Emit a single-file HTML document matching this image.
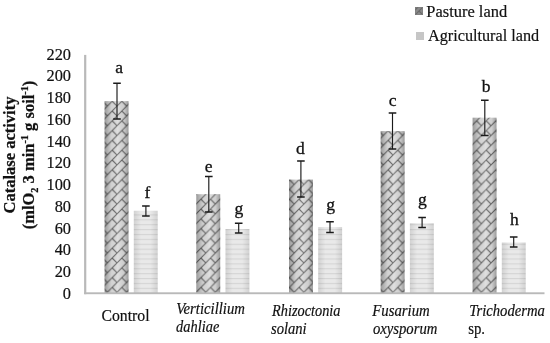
<!DOCTYPE html>
<html><head><meta charset="utf-8"><title>Catalase activity</title>
<style>
html,body{margin:0;padding:0;background:#fff;}
body{width:550px;height:343px;position:relative;overflow:hidden;font-family:"Liberation Serif","Times New Roman",serif;color:#111;}
.t{position:absolute;white-space:nowrap;font-size:17px;line-height:20px;-webkit-text-stroke:0.2px #111;}
.yt{text-align:right;width:40px;left:31.4px;font-size:16.8px;transform:scaleX(0.975);transform-origin:100% 50%;}
.dl{text-align:center;width:30px;}
.xl{font-size:17px;line-height:22px;}
.i{font-style:italic;}
.ylab{position:absolute;font-weight:bold;font-size:16.5px;line-height:18.7px;text-align:center;white-space:nowrap;-webkit-text-stroke:0.25px #111;transform-origin:0 0;transform:rotate(-90deg);width:220px;}
sup,sub{font-size:62%;line-height:0;}
.lg{position:absolute;width:8px;height:8px;}
</style></head><body>
<svg width="550" height="343" viewBox="0 0 550 343" style="position:absolute;left:0;top:0">
<defs>
<pattern id="brick0" width="9.63" height="9.8" patternUnits="userSpaceOnUse" patternTransform="translate(107.39 106.10)">
<rect width="9.63" height="9.8" fill="#dcdcdc"/>
<path d="M-1 10.82 L10.63 -1.02 M-1 1.02 L1 -1.02 M8.63 10.82 L10.63 8.78 M4.815 4.9 L9.63 9.8" stroke="#666" stroke-width="1.05" fill="none"/>
</pattern><pattern id="brick1" width="9.63" height="9.8" patternUnits="userSpaceOnUse" patternTransform="translate(196.09 106.10)">
<rect width="9.63" height="9.8" fill="#dcdcdc"/>
<path d="M-1 10.82 L10.63 -1.02 M-1 1.02 L1 -1.02 M8.63 10.82 L10.63 8.78 M4.815 4.9 L9.63 9.8" stroke="#666" stroke-width="1.05" fill="none"/>
</pattern><pattern id="brick2" width="9.63" height="9.8" patternUnits="userSpaceOnUse" patternTransform="translate(284.58 106.10)">
<rect width="9.63" height="9.8" fill="#dcdcdc"/>
<path d="M-1 10.82 L10.63 -1.02 M-1 1.02 L1 -1.02 M8.63 10.82 L10.63 8.78 M4.815 4.9 L9.63 9.8" stroke="#666" stroke-width="1.05" fill="none"/>
</pattern><pattern id="brick3" width="9.63" height="9.8" patternUnits="userSpaceOnUse" patternTransform="translate(373.69 106.10)">
<rect width="9.63" height="9.8" fill="#dcdcdc"/>
<path d="M-1 10.82 L10.63 -1.02 M-1 1.02 L1 -1.02 M8.63 10.82 L10.63 8.78 M4.815 4.9 L9.63 9.8" stroke="#666" stroke-width="1.05" fill="none"/>
</pattern><pattern id="brick4" width="9.63" height="9.8" patternUnits="userSpaceOnUse" patternTransform="translate(471.79 106.10)">
<rect width="9.63" height="9.8" fill="#dcdcdc"/>
<path d="M-1 10.82 L10.63 -1.02 M-1 1.02 L1 -1.02 M8.63 10.82 L10.63 8.78 M4.815 4.9 L9.63 9.8" stroke="#666" stroke-width="1.05" fill="none"/>
</pattern>
<pattern id="hl" width="10" height="4.895" patternUnits="userSpaceOnUse" patternTransform="translate(0 3.9)">
<rect width="10" height="4.895" fill="#e9e9e9"/>
<rect y="0" width="10" height="1.1" fill="#d5d5d5"/>
</pattern>
<linearGradient id="cyl" x1="0" x2="1" y1="0" y2="0">
<stop offset="0" stop-color="#000" stop-opacity="0.30"/>
<stop offset="0.3" stop-color="#000" stop-opacity="0.04"/>
<stop offset="0.55" stop-color="#fff" stop-opacity="0.10"/>
<stop offset="0.8" stop-color="#000" stop-opacity="0.06"/>
<stop offset="1" stop-color="#000" stop-opacity="0.30"/>
</linearGradient>
<linearGradient id="cyl2" x1="0" x2="1" y1="0" y2="0">
<stop offset="0" stop-color="#000" stop-opacity="0.10"/>
<stop offset="0.3" stop-color="#000" stop-opacity="0.0"/>
<stop offset="0.7" stop-color="#000" stop-opacity="0.0"/>
<stop offset="1" stop-color="#000" stop-opacity="0.10"/>
</linearGradient>
</defs>
<rect width="550" height="343" fill="#fff"/>
<rect x="104.6" y="101.1" width="23.9" height="192.2" fill="url(#brick0)"/>
<rect x="104.6" y="101.1" width="23.9" height="192.2" fill="url(#cyl)"/>
<rect x="133.8" y="210.8" width="23.9" height="82.4" fill="url(#hl)"/>
<rect x="133.8" y="210.8" width="23.9" height="82.4" fill="url(#cyl2)"/>
<rect x="196.3" y="194.2" width="23.9" height="99.1" fill="url(#brick1)"/>
<rect x="196.3" y="194.2" width="23.9" height="99.1" fill="url(#cyl)"/>
<rect x="225.5" y="229.0" width="23.9" height="64.2" fill="url(#hl)"/>
<rect x="225.5" y="229.0" width="23.9" height="64.2" fill="url(#cyl2)"/>
<rect x="289.0" y="179.6" width="23.9" height="113.7" fill="url(#brick2)"/>
<rect x="289.0" y="179.6" width="23.9" height="113.7" fill="url(#cyl)"/>
<rect x="318.2" y="227.1" width="23.9" height="66.2" fill="url(#hl)"/>
<rect x="318.2" y="227.1" width="23.9" height="66.2" fill="url(#cyl2)"/>
<rect x="380.7" y="131.1" width="23.9" height="162.2" fill="url(#brick3)"/>
<rect x="380.7" y="131.1" width="23.9" height="162.2" fill="url(#cyl)"/>
<rect x="409.9" y="223.2" width="23.9" height="70.1" fill="url(#hl)"/>
<rect x="409.9" y="223.2" width="23.9" height="70.1" fill="url(#cyl2)"/>
<rect x="472.6" y="117.7" width="23.9" height="175.6" fill="url(#brick4)"/>
<rect x="472.6" y="117.7" width="23.9" height="175.6" fill="url(#cyl)"/>
<rect x="501.8" y="242.5" width="23.9" height="50.8" fill="url(#hl)"/>
<rect x="501.8" y="242.5" width="23.9" height="50.8" fill="url(#cyl2)"/>
<rect x="84.1" y="54.9" width="2.2" height="239.3" fill="#b9b9b9"/>
<rect x="84.1" y="292.3" width="460.4" height="1.9" fill="#b9b9b9"/>
<path d="M117.0 83.2 V118.9" stroke="#1a1a1a" stroke-width="1.15" fill="none"/>
<path d="M113.2 83.2 H120.8 M113.2 118.9 H120.8" stroke="#1a1a1a" stroke-width="1.5" fill="none"/>
<path d="M145.9 206.0 V216.1" stroke="#1a1a1a" stroke-width="1.15" fill="none"/>
<path d="M142.1 206.0 H149.7 M142.1 216.1 H149.7" stroke="#1a1a1a" stroke-width="1.5" fill="none"/>
<path d="M208.8 176.6 V212.1" stroke="#1a1a1a" stroke-width="1.15" fill="none"/>
<path d="M205.0 176.6 H212.6 M205.0 212.1 H212.6" stroke="#1a1a1a" stroke-width="1.5" fill="none"/>
<path d="M238.7 223.3 V232.9" stroke="#1a1a1a" stroke-width="1.15" fill="none"/>
<path d="M234.9 223.3 H242.5 M234.9 232.9 H242.5" stroke="#1a1a1a" stroke-width="1.5" fill="none"/>
<path d="M300.9 160.9 V197.1" stroke="#1a1a1a" stroke-width="1.15" fill="none"/>
<path d="M297.1 160.9 H304.7 M297.1 197.1 H304.7" stroke="#1a1a1a" stroke-width="1.5" fill="none"/>
<path d="M330.0 221.7 V232.5" stroke="#1a1a1a" stroke-width="1.15" fill="none"/>
<path d="M326.2 221.7 H333.8 M326.2 232.5 H333.8" stroke="#1a1a1a" stroke-width="1.5" fill="none"/>
<path d="M392.5 113.0 V149.1" stroke="#1a1a1a" stroke-width="1.15" fill="none"/>
<path d="M388.7 113.0 H396.3 M388.7 149.1 H396.3" stroke="#1a1a1a" stroke-width="1.5" fill="none"/>
<path d="M422.1 217.4 V227.6" stroke="#1a1a1a" stroke-width="1.15" fill="none"/>
<path d="M418.3 217.4 H425.9 M418.3 227.6 H425.9" stroke="#1a1a1a" stroke-width="1.5" fill="none"/>
<path d="M484.8 100.2 V135.6" stroke="#1a1a1a" stroke-width="1.15" fill="none"/>
<path d="M481.0 100.2 H488.6 M481.0 135.6 H488.6" stroke="#1a1a1a" stroke-width="1.5" fill="none"/>
<path d="M513.7 236.9 V247.0" stroke="#1a1a1a" stroke-width="1.15" fill="none"/>
<path d="M509.9 236.9 H517.5 M509.9 247.0 H517.5" stroke="#1a1a1a" stroke-width="1.5" fill="none"/>
</svg>
<div class="t yt" style="top:283.9px">0</div>
<div class="t yt" style="top:262.1px">20</div>
<div class="t yt" style="top:240.4px">40</div>
<div class="t yt" style="top:218.7px">60</div>
<div class="t yt" style="top:196.9px">80</div>
<div class="t yt" style="top:175.2px">100</div>
<div class="t yt" style="top:153.4px">120</div>
<div class="t yt" style="top:131.7px">140</div>
<div class="t yt" style="top:109.9px">160</div>
<div class="t yt" style="top:88.2px">180</div>
<div class="t yt" style="top:66.4px">200</div>
<div class="t yt" style="top:44.6px">220</div>
<svg width="550" height="343" viewBox="0 0 550 343" style="position:absolute;left:0;top:0" font-family="Liberation Serif, Times New Roman, serif" font-size="17.5" fill="#111" stroke="#111" stroke-width="0.3" text-anchor="middle">
<text x="119.1" y="72.8">a</text>
<text x="147.3" y="198.0">f</text>
<text x="208.7" y="172.0">e</text>
<text x="238.9" y="213.8">g</text>
<text x="300.3" y="154.0">d</text>
<text x="330.6" y="210.1">g</text>
<text x="392.7" y="106.3">c</text>
<text x="422.3" y="204.9">g</text>
<text x="486.0" y="92.0">b</text>
<text x="514.4" y="224.7">h</text>
</svg>
<svg width="550" height="343" viewBox="0 0 550 343" style="position:absolute;left:0;top:0" font-family="Liberation Serif, Times New Roman, serif" fill="#111" stroke="#111" stroke-width="0.2">
<text transform="translate(101.47 320.5) scale(0.926 1)" font-size="17">Control</text>
<text transform="translate(176.23 313.7) scale(0.867 1)" font-size="17" font-style="italic">Verticillium</text>
<text transform="translate(176.10 331.6) scale(0.847 1)" font-size="17" font-style="italic">dahliae</text>
<text transform="translate(272.00 316.1) scale(0.844 1)" font-size="17" font-style="italic">Rhizoctonia</text>
<text transform="translate(271.00 333.8) scale(0.859 1)" font-size="17" font-style="italic">solani</text>
<text transform="translate(372.20 316.4) scale(0.872 1)" font-size="17" font-style="italic">Fusarium</text>
<text transform="translate(372.90 334.1) scale(0.865 1)" font-size="17" font-style="italic">oxysporum</text>
<text transform="translate(469.14 316.1) scale(0.863 1)" font-size="17" font-style="italic">Trichoderma</text>
<text transform="translate(468.13 334.1) scale(0.871 1)" font-size="17">sp.</text>
<text transform="translate(426.36 16.6) scale(0.940 1)" font-size="17.5">Pasture land</text>
<text transform="translate(428.00 40.6) scale(0.927 1)" font-size="17.5">Agricultural land</text>
</svg>
<div class="ylab" style="left:1.2px;top:264.6px">Catalase activity<br>(mlO<sub>2</sub> 3 min<sup>-1</sup> g soil<sup>-1</sup>)</div>
<svg width="8" height="8" viewBox="0 0 8 8" style="position:absolute;left:415.4px;top:7.4px"><rect width="8" height="8" fill="#8a8a8a"/><path d="M0 8 L8 0 M0 3 L3 0 M4 4 L8 8" stroke="#6a6a6a" stroke-width="1.2" fill="none"/><rect x="0.25" y="0.25" width="7.5" height="7.5" fill="none" stroke="#7a7a7a" stroke-width="0.5"/></svg>
<div class="lg" style="left:415.6px;top:31.9px;background:#c6c6c6"></div>
</body></html>
